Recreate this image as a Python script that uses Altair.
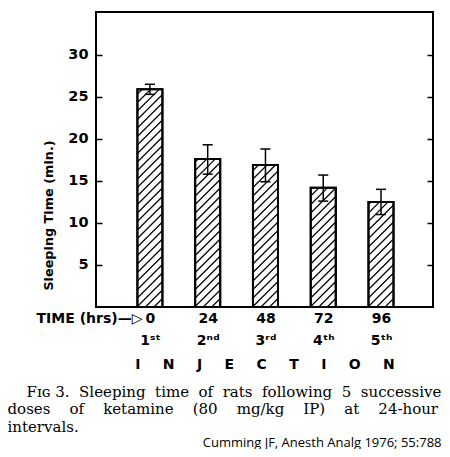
import json
import altair as alt
import pandas as pd

# ---- data ----
hours = [0, 24, 48, 72, 96]
sleep_min = [25.9, 17.6, 16.9, 14.2, 12.5]
err_hi = [26.5, 19.3, 18.8, 15.7, 14.0]
err_lo = [25.3, 15.8, 14.9, 12.6, 11.0]
ordinals = ["1\u02e2\u1d57", "2\u207f\u1d48", "3\u02b3\u1d48", "4\u1d57\u02b0", "5\u1d57\u02b0"]
y_ticks = [5, 10, 15, 20, 25, 30]
time_label = "TIME (hrs)\u2014\u25b7"
GAP = "\u2003\u2002\u200a"
injection = GAP.join(list("INJECTION"))
NB = "\u00a0"
caption_lines = [
    "\u200b" + NB * 4 + "F\u026a\u0262" + NB + "3." + NB * 2
    + (NB * 2).join(["Sleeping", "time", "of", "rats", "following", "5", "successive"]),
    (NB * 4).join(["doses", "of", "ketamine", "(80", "mg/kg", "IP)", "at", "24-hour"]),
    "intervals.",
]
citation = "Cumming JF, Anesth Analg 1976; 55:788"

# ---- layout ----
W, H = 337, 295
x_dom = [-22.4, 117.6]
y_dom = [0, 35.1]
half = 5.2          # half bar width in hours
cap = 2.1           # half error-cap width in hours
pxh = W / (x_dom[1] - x_dom[0])
pxm = H / (y_dom[1] - y_dom[0])
bar_px = 2 * half * pxh
step = 8.5          # hatch spacing (px)

df = pd.DataFrame({"hrs": hours, "sleep": sleep_min, "lo": err_lo, "hi": err_hi})

xs = alt.Scale(domain=x_dom, nice=False, zero=False)
ys = alt.Scale(domain=y_dom, nice=False, zero=False)

SANS = "DejaVu Sans"

main_x_axis = alt.Axis(
    orient="bottom", values=hours, ticks=False, domain=False, grid=False,
    labelExpr="[datum.label, " + json.dumps(ordinals, ensure_ascii=False) + "[indexof(" + json.dumps(hours) + ", datum.value)]]",
    labelFont=SANS, labelFontWeight="bold", labelFontSize=14, labelColor="black",
    labelPadding=4, labelLineHeight=22, labelOverlap=False, labelFlush=False,
    title=injection, titleFont=SANS, titleFontWeight="bold", titleFontSize=14,
    titleColor="black", titlePadding=10,
)
time_axis = alt.Axis(
    orient="bottom", values=[hours[0]], ticks=False, domain=False, grid=False,
    labelExpr=json.dumps(time_label, ensure_ascii=False),
    labelAlign="right", labelOffset=-8,
    labelFont=SANS, labelFontWeight="bold", labelFontSize=14, labelColor="black",
    labelPadding=4, labelOverlap=False, labelFlush=False,
    title=caption_lines, titleFont="DejaVu Serif", titleFontWeight="normal",
    titleFontSize=15, titleColor="black", titleLineHeight=17.5,
    titleAlign="left", titleBaseline="alphabetic", titleX=-89, titleY=89,
)
left_axis = alt.Axis(
    orient="left", values=y_ticks, offset=-6, tickSize=6, tickWidth=1.5,
    tickColor="black", domain=False, grid=False,
    labelFont=SANS, labelFontWeight="bold", labelFontSize=14.5, labelColor="black",
    labelPadding=8,
    title="Sleeping Time (min.)", titleFont=SANS, titleFontWeight="bold",
    titleFontSize=12.8, titleColor="black", titlePadding=12, titleY=203,
)
right_axis = alt.Axis(
    orient="right", values=y_ticks, offset=-6, tickSize=6, tickWidth=1.5,
    tickColor="black", domain=False, grid=False, labels=False,
    title=citation, titleFont="Open Sans", titleFontWeight="normal",
    titleFontSize=13, titleColor="black", titleAngle=0, titleAlign="right",
    titleBaseline="alphabetic", titleX=14, titleY=434,
)

base = alt.Chart(df)

bars = base.transform_calculate(
    l=f"datum.hrs - {half}", r=f"datum.hrs + {half}"
).mark_rect(fill="white", stroke="black", strokeWidth=2).encode(
    x=alt.X("l:Q", scale=xs, axis=main_x_axis),
    x2="r:Q",
    y=alt.Y("sleep:Q", scale=ys, axis=left_axis),
    y2=alt.datum(0),
)

hatch = base.transform_calculate(
    k="sequence(1, 40)"
).transform_flatten(["k"]).transform_calculate(
    b=f"datum.k * {step} - {bar_px}"
).transform_calculate(
    px0="max(0, -datum.b)",
    px1=f"min({bar_px}, datum.sleep * {pxm} - datum.b)",
).transform_filter("datum.px1 > datum.px0 + 0.5").transform_calculate(
    hx0=f"datum.hrs - {half} + datum.px0 / {pxh}",
    hx1=f"datum.hrs - {half} + datum.px1 / {pxh}",
    hy0=f"(datum.px0 + datum.b) / {pxm}",
    hy1=f"(datum.px1 + datum.b) / {pxm}",
).mark_rule(color="black", strokeWidth=1.2).encode(
    x=alt.X("hx0:Q", scale=xs, axis=time_axis),
    x2="hx1:Q",
    y=alt.Y("hy0:Q", scale=ys, axis=right_axis),
    y2="hy1:Q",
)

outline = base.transform_calculate(
    l=f"datum.hrs - {half}", r=f"datum.hrs + {half}"
).mark_rect(filled=False, stroke="black", strokeWidth=2).encode(
    x=alt.X("l:Q", scale=xs, axis=None), x2="r:Q",
    y=alt.Y("sleep:Q", scale=ys, axis=None), y2=alt.datum(0),
)

err = base.mark_rule(color="black", strokeWidth=1.5).encode(
    x=alt.X("hrs:Q", scale=xs, axis=None),
    y=alt.Y("lo:Q", scale=ys, axis=None),
    y2="hi:Q",
)
caps_src = base.transform_fold(["lo", "hi"], as_=["end", "val"]).transform_calculate(
    c0=f"datum.hrs - {cap}", c1=f"datum.hrs + {cap}"
)
caps = caps_src.mark_rule(color="black", strokeWidth=1.5).encode(
    x=alt.X("c0:Q", scale=xs, axis=None), x2="c1:Q",
    y=alt.Y("val:Q", scale=ys, axis=None),
)

chart = alt.layer(bars, hatch, outline, err, caps).resolve_axis(
    x="independent", y="independent"
).properties(
    width=W, height=H,
    autosize=alt.AutoSizeParams(type="none"),
    padding={"left": 88, "top": 4, "right": 9, "bottom": 142},
    background="white",
).configure_view(stroke="black", strokeWidth=2)

chart.save("out.html", embed_options={"renderer": "svg", "actions": False})
